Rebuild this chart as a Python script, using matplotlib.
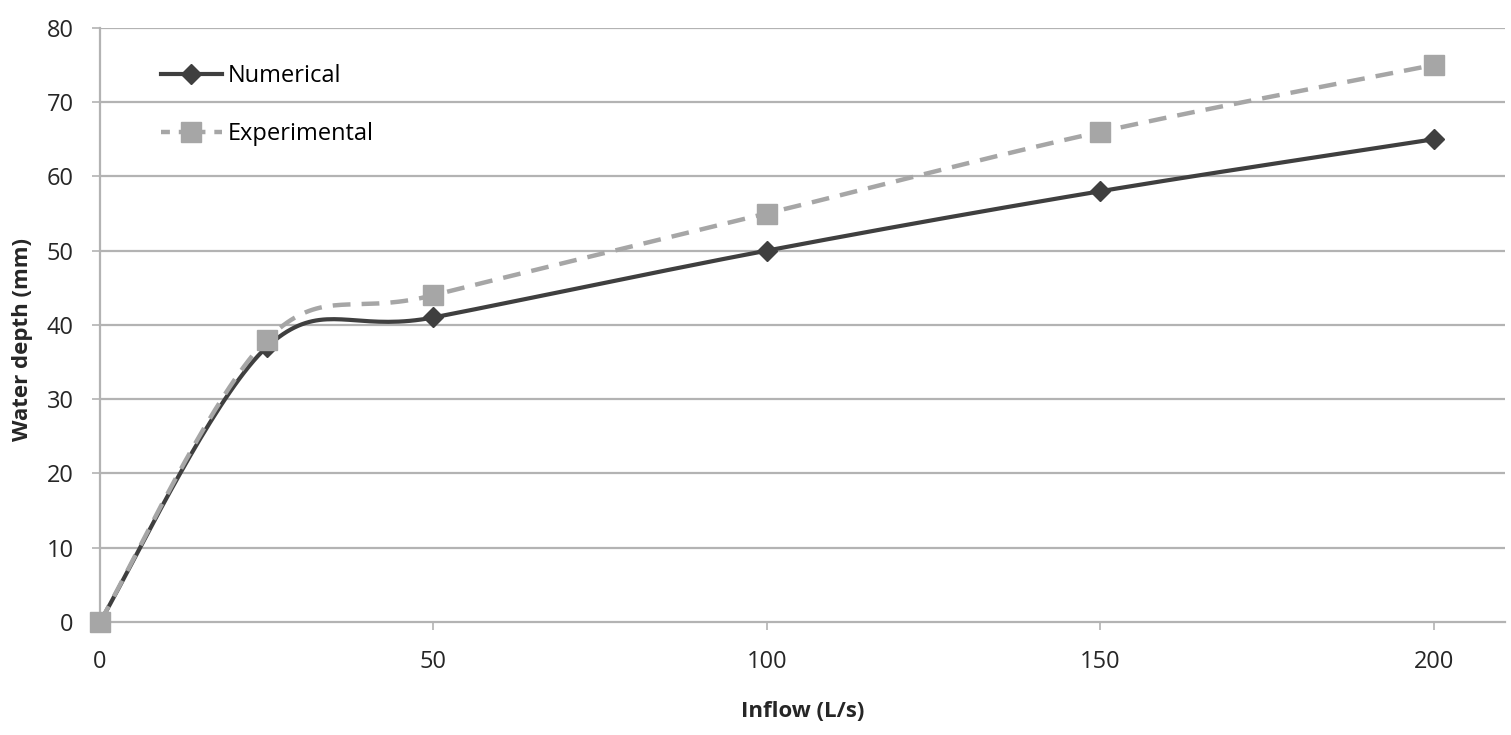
import numpy as np
import matplotlib
matplotlib.use("Agg")
import matplotlib.pyplot as plt
from matplotlib.lines import Line2D

inflow = [0, 25, 50, 100, 150, 200]
numerical = [0, 37, 41, 50, 58, 65]
experimental = [0, 38, 44, 55, 66, 75]

y_ticks = [0, 10, 20, 30, 40, 50, 60, 70, 80]
x_ticks = [0, 50, 100, 150, 200]


def smooth(xs, ys, n=40):
    # Excel-like smoothed line: cubic Bezier through each point
    p = np.column_stack([xs, ys]).astype(float)
    ext = np.vstack([p[0], p, p[-1]])
    out = [p[:1]]
    t = np.linspace(0, 1, n)[1:, None]
    for i in range(len(p) - 1):
        p0, p1, p2, p3 = ext[i], ext[i + 1], ext[i + 2], ext[i + 3]
        c1 = p1 + (p2 - p0) / 6
        c2 = p2 - (p3 - p1) / 6
        seg = ((1 - t) ** 3) * p1 + 3 * ((1 - t) ** 2) * t * c1 + 3 * (1 - t) * t ** 2 * c2 + t ** 3 * p2
        out.append(seg)
    s = np.vstack(out)
    return s[:, 0], s[:, 1]


plt.rcParams["font.family"] = ["Open Sans", "DejaVu Sans"]

fig = plt.figure(figsize=(15.11, 7.35), dpi=100)
ax = fig.add_axes([0.0662, 0.154, 0.9298, 0.808])

dark = "#3f3f3f"
light = "#a6a6a6"
grid_c = "#b3b3b3"
text_c = "#262626"

for v in y_ticks[1:]:
    ax.axhline(v, color=grid_c, lw=1.6, zorder=0)

# numerical first, experimental drawn over it (as in the original)
sx, sy = smooth(inflow, numerical)
ax.plot(sx, sy, color=dark, lw=3.0, zorder=2, clip_on=False)
ax.plot(inflow, numerical, ls="none", marker="D", ms=10, color=dark, zorder=3, clip_on=False)

sx, sy = smooth(inflow, experimental)
ax.plot(sx, sy, color=light, lw=3.2, ls=(0, (4, 2.5)), zorder=4, clip_on=False)
ax.plot(inflow, experimental, ls="none", marker="s", ms=15, color=light, zorder=5, clip_on=False)

ax.set_xlim(0, 210.7)
ax.set_ylim(0, 80)
ax.set_xticks(x_ticks)
ax.set_yticks(y_ticks)
ax.tick_params(axis="both", labelsize=17, colors=text_c, length=6, width=1.2)
ax.tick_params(axis="x", color=grid_c, pad=14)
ax.tick_params(axis="y", color=grid_c, pad=13)

for side in ["top", "right"]:
    ax.spines[side].set_visible(False)
for side in ["left", "bottom"]:
    ax.spines[side].set_color(grid_c)
    ax.spines[side].set_linewidth(1.6)

ax.set_xlabel("Inflow (L/s)", fontsize=16, fontweight="bold", color=text_c, labelpad=20)
ax.set_ylabel("Water depth (mm)", fontsize=16, fontweight="bold", color=text_c)
ax.yaxis.set_label_coords(-0.048, 0.475)

handles = [
    Line2D([], [], color=dark, lw=3.0, marker="D", ms=10),
    Line2D([], [], color=light, lw=3.2, ls=(0, (2, 2)), marker="s", ms=15),
]
ax.legend(handles, ["Numerical", "Experimental"], loc="upper left",
          bbox_to_anchor=(0.028, 0.975), frameon=False, fontsize=17,
          handlelength=2.6, handletextpad=0.25, labelspacing=1.45)

fig.savefig("out.png", dpi=100)
